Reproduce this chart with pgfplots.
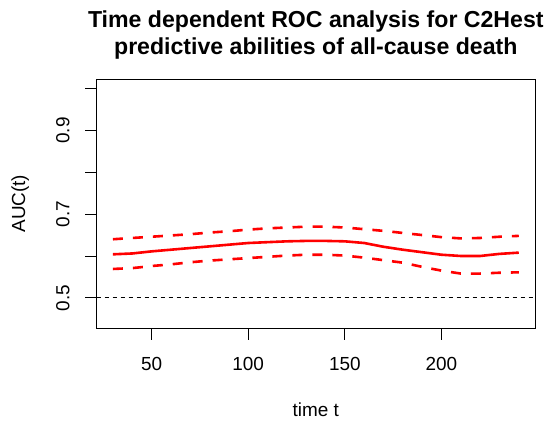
\documentclass[border=0pt]{standalone}
\usepackage{fontspec}
\setmainfont{Liberation Sans}
\usepackage{pgfplots}
\usepackage{pgfplotstable}
\pgfplotsset{compat=1.18}
\pgfplotstableread{
t auc upper lower
30 0.604 0.640 0.569
40 0.606 0.643 0.571
50 0.611 0.646 0.576
60 0.615 0.649 0.580
70 0.619 0.652 0.585
80 0.623 0.656 0.589
90 0.627 0.659 0.592
100 0.631 0.663 0.595
110 0.633 0.666 0.598
120 0.635 0.668 0.601
130 0.636 0.670 0.603
140 0.636 0.670 0.603
150 0.635 0.668 0.601
160 0.631 0.664 0.596
170 0.622 0.660 0.590
180 0.615 0.655 0.584
190 0.609 0.650 0.574
200 0.603 0.645 0.565
210 0.600 0.642 0.558
220 0.600 0.643 0.558
230 0.605 0.646 0.560
240 0.608 0.648 0.561
}\roc
\begin{document}
\begin{tikzpicture}
\useasboundingbox (0,0) rectangle (550bp,428bp);
\begin{axis}[
  at={(96.7bp,100bp)}, anchor=south west,
  width=438.3bp, height=248.7bp, scale only axis,
  xmin=21.6, xmax=248.4, ymin=0.428, ymax=1.022,
  xtick={50,100,150,200},
  ytick={0.5,0.6,0.7,0.8,0.9,1.0},
  yticklabels={0.5,,0.7,,0.9,},
  xtick pos=left, ytick pos=left,
  tick align=outside, major tick length=11.5bp,
  tick style={black, line width=0.8bp},
  axis line style={black, line width=0.8bp},
  ticklabel style={font=\fontsize{19}{22}\selectfont},
  xticklabel style={anchor=base, yshift=-31bp},
  yticklabel style={anchor=base, xshift=-15.9bp, rotate=90},
  /pgf/number format/assume math mode=true,
  clip=true,
]
\addplot[black, line width=1bp, dash pattern=on 4bp off 4bp] coordinates {(21.6,0.5) (248.4,0.5)};
\addplot[red, line width=2.6bp] table[x=t, y=auc] {\roc};
\addplot[red, line width=2.6bp, dash pattern=on 10bp off 10bp] table[x=t, y=upper] {\roc};
\addplot[red, line width=2.6bp, dash pattern=on 10bp off 10bp] table[x=t, y=lower] {\roc};
\end{axis}
\node[anchor=base, font=\bfseries\fontsize{23.2}{26.6}\selectfont] at (315.8bp,400.3bp) {Time dependent ROC analysis for C2Hest};
\node[anchor=base, font=\bfseries\fontsize{23.2}{26.6}\selectfont] at (315.8bp,373.7bp) {predictive abilities of all-cause death};
\node[anchor=base, font=\fontsize{19}{22}\selectfont] at (315.8bp,12bp) {time t};
\node[anchor=base, rotate=90, font=\fontsize{19}{22}\selectfont] at (25bp,224.3bp) {AUC(t)};
\end{tikzpicture}
\end{document}
